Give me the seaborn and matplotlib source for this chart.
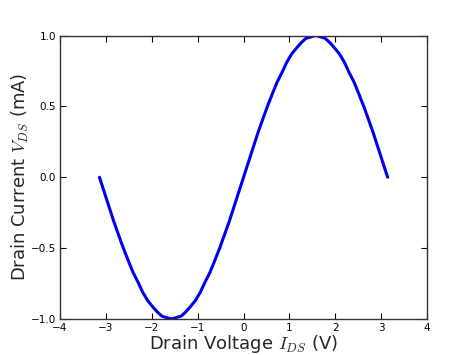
import matplotlib
matplotlib.use("Agg")
import matplotlib.pyplot as plt
import pandas as pd
import seaborn as sns

# values
voltage = [-3.14, -3.04, -2.93, -2.83, -2.72, -2.62, -2.51, -2.41, -2.30, -2.20,
           -2.09, -1.99, -1.88, -1.78, -1.68, -1.57, -1.47, -1.36, -1.26, -1.15,
           -1.05, -0.94, -0.84, -0.73, -0.63, -0.52, -0.42, -0.31, -0.21, -0.10,
           0.00, 0.10, 0.21, 0.31, 0.42, 0.52, 0.63, 0.73, 0.84, 0.94,
           1.05, 1.15, 1.26, 1.36, 1.47, 1.57, 1.68, 1.78, 1.88, 1.99,
           2.09, 2.20, 2.30, 2.41, 2.51, 2.62, 2.72, 2.83, 2.93, 3.04, 3.14]
current = [0.00, -0.10, -0.21, -0.31, -0.41, -0.50, -0.59, -0.67, -0.74, -0.81,
           -0.87, -0.91, -0.95, -0.98, -0.99, -1.00, -0.99, -0.98, -0.95, -0.91,
           -0.87, -0.81, -0.74, -0.67, -0.59, -0.50, -0.41, -0.31, -0.21, -0.10,
           0.00, 0.10, 0.21, 0.31, 0.41, 0.50, 0.59, 0.67, 0.74, 0.81,
           0.87, 0.91, 0.95, 0.98, 0.99, 1.00, 0.99, 0.98, 0.95, 0.91,
           0.87, 0.81, 0.74, 0.67, 0.59, 0.50, 0.41, 0.31, 0.21, 0.10, 0.00]
xticks = [-4, -3, -2, -1, 0, 1, 2, 3, 4]
yticks = [-1.0, -0.5, 0.0, 0.5, 1.0]

sns.set_style("white")
plt.rcParams["font.family"] = ["DejaVu Sans"]
plt.rcParams["mathtext.fontset"] = "cm"

df = pd.DataFrame({"V": voltage, "I": current})

fig = plt.figure(figsize=(4.74, 3.55), dpi=100)
ax = fig.add_axes([0.1266, 0.1014, 0.7744, 0.7986])
sns.lineplot(data=df, x="V", y="I", sort=False, color="#0000ee", linewidth=2.2, ax=ax)

ax.set_xlim(-4, 4)
ax.set_ylim(-1.0, 1.0)
ax.set_xticks(xticks)
ax.set_yticks(yticks)
ax.set_yticklabels([f"{v:.1f}".replace("-", "\u2212") for v in yticks])
ax.tick_params(direction="in", length=4, width=0.8, labelsize=7.5, colors="black",
               top=True, right=True, bottom=True, left=True, pad=3)
for s in ax.spines.values():
    s.set_color("#333333")
    s.set_linewidth(1.0)

ax.set_xlabel("Drain Voltage $I_{DS}$ (V)", fontsize=13, labelpad=0)
ax.set_ylabel("Drain Current $V_{DS}$ (mA)", fontsize=13, labelpad=0)

fig.savefig("out.png", dpi=100)
